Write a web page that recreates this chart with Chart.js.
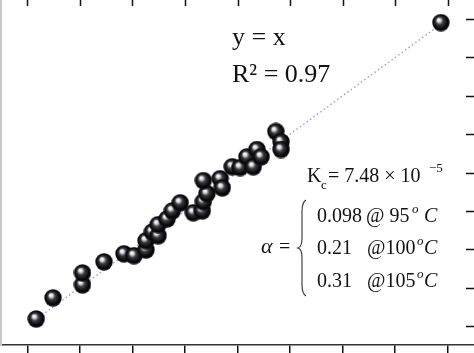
<!DOCTYPE html>
<html>
<head>
<meta charset="utf-8">
<script src="https://cdn.jsdelivr.net/npm/chart.js@4.4.1/dist/chart.umd.min.js"></script>
<style>
  html, body { margin: 0; padding: 0; background: #fff; }
  canvas { display: block; }
</style>
</head>
<body>
<canvas id="grafica" width="474" height="353"></canvas>
<script>
// ---------------------------------------------------------------------------
// Datos (mismas unidades en ambos ejes)
// ---------------------------------------------------------------------------
const medidos   = [0.17, 0.49, 1.05, 1.05, 1.46, 1.84, 2.03, 2.26, 2.26, 2.38, 2.49, 2.49, 2.66, 2.76, 2.91, 3.16,
                   3.33, 3.35, 3.42, 3.35, 3.67, 3.71, 3.90, 4.05, 4.18, 4.30, 4.37, 4.45, 4.73, 4.83, 4.83, 7.87];
const predichos = [0.18, 0.73, 1.07, 1.38, 1.67, 1.88, 1.83, 1.98, 2.22, 2.45, 2.35, 2.64, 2.79, 3.00, 3.21, 2.95,
                   3.00, 3.24, 3.45, 3.79, 3.84, 3.60, 4.15, 4.13, 4.41, 4.15, 4.60, 4.41, 5.07, 4.80, 4.60, 7.91];
const lineaX    = [0.15, 7.85];           // recta y = x
const marcas    = [0, 1, 2, 3, 4, 5, 6, 7, 8]; // posiciones de ticks (sin etiquetas)

// Esfera negra con brillo, usada como pointStyle
function crearBola(d) {
    const c = document.createElement("canvas");
    c.width = d; c.height = d;
    const g = c.getContext("2d");
    const r = d / 2;
    const grad = g.createRadialGradient(r * 0.72, r * 0.66, 0, r, r, r);
    grad.addColorStop(0, "#ffffff");
    grad.addColorStop(0.18, "#e2e2ea");
    grad.addColorStop(0.42, "#3a3a40");
    grad.addColorStop(0.8, "#040404");
    grad.addColorStop(1, "#1c1424");
    g.fillStyle = grad;
    g.beginPath();
    g.arc(r, r, r - 0.3, 0, Math.PI * 2);
    g.fill();
    return c;
}
const bola = crearBola(18);

// Ticks interiores (arriba y derecha) + textos
const anotaciones = {
    id: "anotaciones",
    afterDraw(chart) {
        const ctx = chart.ctx;
        const a = chart.chartArea;
        const sx = chart.scales.x, sy = chart.scales.y;
        ctx.save();
        ctx.strokeStyle = "#111";
        ctx.lineWidth = 1.5;
        ctx.beginPath();
        marcas.forEach(v => {
            const px = Math.round(sx.getPixelForValue(v)) + 0.5;
            ctx.moveTo(px, a.top); ctx.lineTo(px, a.top + 6);
            const py = Math.round(sy.getPixelForValue(v)) + 0.5;
            ctx.moveTo(a.right, py); ctx.lineTo(a.right - 8, py);
        });
        ctx.stroke();

        ctx.fillStyle = "#111";
        ctx.textBaseline = "alphabetic";
        const serif = "'Liberation Serif', 'DejaVu Serif', serif";
        ctx.font = "26px " + serif;
        ctx.fillText("y = x", 232, 45);
        ctx.fillText("R² = 0.97", 232, 82);

        // K_c = 7.48 × 10^-5
        ctx.font = "20px " + serif;
        ctx.fillText("K", 307, 182);
        ctx.font = "13px " + serif;
        ctx.fillText("c", 321, 189);
        ctx.font = "20px " + serif;
        ctx.fillText("= 7.48 × 10", 328, 182);
        ctx.font = "13px " + serif;
        ctx.fillText("−5", 429, 172);

        // alpha = { ... }
        ctx.font = "italic 22px " + serif;
        ctx.fillText("α", 261, 253);
        ctx.font = "20px " + serif;
        ctx.fillText("=", 279, 253);

        ctx.strokeStyle = "#333";
        ctx.lineWidth = 1.1;
        ctx.beginPath();
        const bx = 305, top = 200, mid = 248, bot = 296;
        ctx.moveTo(bx + 1, top);
        ctx.quadraticCurveTo(bx - 3, top + 2, bx - 3, top + 12);
        ctx.lineTo(bx - 3, mid - 10);
        ctx.quadraticCurveTo(bx - 3, mid - 1, bx - 7, mid);
        ctx.quadraticCurveTo(bx - 3, mid + 1, bx - 3, mid + 10);
        ctx.lineTo(bx - 3, bot - 12);
        ctx.quadraticCurveTo(bx - 3, bot - 2, bx + 1, bot);
        ctx.stroke();

        const filas = [
            ["0.098", "@ 95", 222, 366, 412],
            ["0.21", "@100", 254, 367, 417],
            ["0.31", "@105", 287, 367, 417]
        ];
        filas.forEach(([val, temp, base, xt, xo]) => {
            ctx.font = "20px " + serif;
            ctx.fillText(val, 317, base);
            ctx.fillText(temp, xt, base);
            ctx.font = "italic 13px " + serif;
            ctx.fillText("o", xo, base - 9);
            ctx.font = "italic 20px " + serif;
            ctx.fillText("C", 424, base);
        });
        ctx.restore();
    }
};

new Chart(document.getElementById("grafica"), {
    type: "scatter",
    data: {
        datasets: [{
            label: "datos",
            data: medidos.map((x, i) => ({ x, y: predichos[i] })),
            pointStyle: bola,
            pointRadius: 9,
            pointHoverRadius: 9
        }, {
            label: "y = x",
            data: lineaX.map(x => ({ x, y: x })),
            showLine: true,
            pointRadius: 0,
            borderColor: "#a89ce0",
            borderWidth: 1.4,
            borderDash: [1.6, 2.6]
        }]
    },
    options: {
        responsive: false,
        animation: false,
        devicePixelRatio: 1,
        layout: { autoPadding: false, padding: { left: 1, right: 0, top: 0, bottom: 0 } },
        plugins: { legend: { display: false }, tooltip: { enabled: false } },
        scales: {
            x: {
                type: "linear",
                min: -0.5, max: 8.5,
                afterBuildTicks: s => { s.ticks = marcas.map(v => ({ value: v })); },
                ticks: { display: false },
                grid: { drawOnChartArea: false, drawTicks: true, tickLength: 8, tickColor: "#111", lineWidth: 1.5 },
                border: { display: true, color: "#333", width: 1.5 }
            },
            y: {
                type: "linear",
                min: -0.5, max: 8.5,
                afterBuildTicks: s => { s.ticks = marcas.map(v => ({ value: v })); },
                ticks: { display: false },
                grid: { drawOnChartArea: false, drawTicks: false },
                border: { display: true, color: "#c8c8c8", width: 2 }
            }
        }
    },
    plugins: [anotaciones]
});
</script>
</body>
</html>
